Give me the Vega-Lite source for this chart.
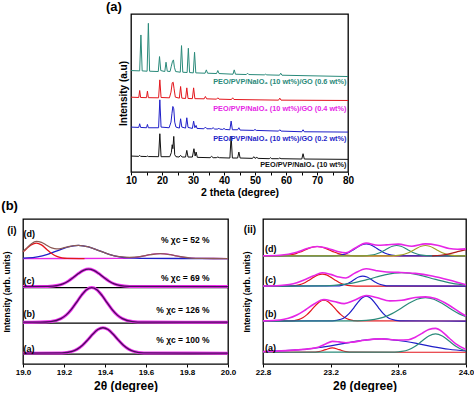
{
"$schema": "https://vega.github.io/schema/vega-lite/v6.json",
"padding": {"left": 1, "top": 0, "right": 0, "bottom": 0},
"config": {
 "font": "Liberation Sans",
 "view": {"stroke": "#000", "strokeWidth": 1.3},
 "axis": {"labelFont": "Liberation Sans", "titleFont": "Liberation Sans", "labelFontWeight": "bold", "titleFontWeight": "bold", "labelColor": "#000", "titleColor": "#000", "tickColor": "#000", "grid": false, "domain": false, "labelOverlap": false},
 "title": {"font": "Liberation Sans", "fontWeight": "bold", "color": "#000"}
},
"datasets": {
 "xrd": [
  {"s":"k","x":10,"y":48},{"s":"k","x":12.5,"y":47},{"s":"k","x":12.8,"y":50},{"s":"k","x":13.1,"y":47},{"s":"k","x":15,"y":46.5},{"s":"k","x":15.3,"y":48},{"s":"k","x":15.6,"y":46.5},{"s":"k","x":18.9,"y":46},{"s":"k","x":19.3,"y":115},{"s":"k","x":19.7,"y":46},{"s":"k","x":22.5,"y":46},{"s":"k","x":23.0,"y":58},{"s":"k","x":23.3,"y":82},{"s":"k","x":23.5,"y":70},{"s":"k","x":23.8,"y":107},{"s":"k","x":24.1,"y":52},{"s":"k","x":24.5,"y":46},{"s":"k","x":25.5,"y":45},{"s":"k","x":26,"y":50},{"s":"k","x":26.5,"y":45},{"s":"k","x":27.6,"y":45},{"s":"k","x":28,"y":65},{"s":"k","x":28.4,"y":45},{"s":"k","x":29.8,"y":45},{"s":"k","x":30.3,"y":70},{"s":"k","x":30.7,"y":48},{"s":"k","x":31.0,"y":60},{"s":"k","x":31.4,"y":44},{"s":"k","x":35.5,"y":43},{"s":"k","x":36,"y":47},{"s":"k","x":36.5,"y":43},{"s":"k","x":37.5,"y":43},{"s":"k","x":38,"y":45},{"s":"k","x":38.5,"y":43},{"s":"k","x":41.9,"y":42},{"s":"k","x":42.3,"y":108},{"s":"k","x":42.7,"y":42},{"s":"k","x":44.4,"y":42},{"s":"k","x":44.8,"y":60},{"s":"k","x":45.2,"y":42},{"s":"k","x":49.2,"y":41},{"s":"k","x":49.6,"y":46},{"s":"k","x":50,"y":41},{"s":"k","x":50.6,"y":44},{"s":"k","x":51,"y":41},{"s":"k","x":54.6,"y":40},{"s":"k","x":55,"y":43},{"s":"k","x":55.4,"y":40},{"s":"k","x":57.6,"y":40},{"s":"k","x":58,"y":42},{"s":"k","x":58.4,"y":40},{"s":"k","x":65.1,"y":39},{"s":"k","x":65.5,"y":55},{"s":"k","x":65.9,"y":39},{"s":"k","x":80,"y":38},
  {"s":"blue","x":10,"y":135},{"s":"blue","x":12.5,"y":134},{"s":"blue","x":12.8,"y":145},{"s":"blue","x":13.1,"y":134},{"s":"blue","x":15,"y":133},{"s":"blue","x":15.3,"y":143},{"s":"blue","x":15.6,"y":133},{"s":"blue","x":18.9,"y":133},{"s":"blue","x":19.3,"y":217},{"s":"blue","x":19.7,"y":135},{"s":"blue","x":22.3,"y":133},{"s":"blue","x":22.9,"y":150},{"s":"blue","x":23.2,"y":175},{"s":"blue","x":23.5,"y":197},{"s":"blue","x":23.8,"y":190},{"s":"blue","x":24.1,"y":150},{"s":"blue","x":24.5,"y":135},{"s":"blue","x":25.6,"y":132},{"s":"blue","x":26,"y":160},{"s":"blue","x":26.4,"y":135},{"s":"blue","x":27.6,"y":132},{"s":"blue","x":28,"y":163},{"s":"blue","x":28.4,"y":134},{"s":"blue","x":29.8,"y":131},{"s":"blue","x":30.2,"y":153},{"s":"blue","x":30.6,"y":133},{"s":"blue","x":31,"y":140},{"s":"blue","x":31.3,"y":131},{"s":"blue","x":33.5,"y":130},{"s":"blue","x":34,"y":135},{"s":"blue","x":34.5,"y":130},{"s":"blue","x":36,"y":130},{"s":"blue","x":36.5,"y":133},{"s":"blue","x":37,"y":129},{"s":"blue","x":38,"y":129},{"s":"blue","x":38.3,"y":132},{"s":"blue","x":38.6,"y":129},{"s":"blue","x":39.6,"y":128},{"s":"blue","x":40,"y":131},{"s":"blue","x":40.4,"y":128},{"s":"blue","x":41.9,"y":127},{"s":"blue","x":42.3,"y":153},{"s":"blue","x":42.7,"y":127},{"s":"blue","x":44.4,"y":127},{"s":"blue","x":44.8,"y":133},{"s":"blue","x":45.2,"y":126},{"s":"blue","x":49.6,"y":125},{"s":"blue","x":50,"y":128},{"s":"blue","x":50.4,"y":125},{"s":"blue","x":57.6,"y":123},{"s":"blue","x":58,"y":127},{"s":"blue","x":58.4,"y":123},{"s":"blue","x":65.1,"y":121},{"s":"blue","x":65.5,"y":127},{"s":"blue","x":65.9,"y":121},{"s":"blue","x":80,"y":120},
  {"s":"red","x":10,"y":225},{"s":"red","x":12.5,"y":224},{"s":"red","x":12.8,"y":245},{"s":"red","x":13.1,"y":224},{"s":"red","x":15,"y":223.5},{"s":"red","x":15.3,"y":243},{"s":"red","x":15.6,"y":223.5},{"s":"red","x":18.9,"y":223},{"s":"red","x":19.3,"y":277},{"s":"red","x":19.7,"y":224},{"s":"red","x":22.4,"y":223},{"s":"red","x":22.9,"y":240},{"s":"red","x":23.3,"y":268},{"s":"red","x":23.6,"y":270},{"s":"red","x":23.9,"y":250},{"s":"red","x":24.3,"y":225},{"s":"red","x":25.6,"y":222},{"s":"red","x":26,"y":257},{"s":"red","x":26.4,"y":222},{"s":"red","x":27.6,"y":221},{"s":"red","x":28,"y":253},{"s":"red","x":28.4,"y":221},{"s":"red","x":29.8,"y":220.5},{"s":"red","x":30.2,"y":253},{"s":"red","x":30.6,"y":220.5},{"s":"red","x":33.6,"y":220},{"s":"red","x":34,"y":227},{"s":"red","x":34.4,"y":220},{"s":"red","x":37.6,"y":219},{"s":"red","x":38,"y":223},{"s":"red","x":38.4,"y":219},{"s":"red","x":42.4,"y":218},{"s":"red","x":42.8,"y":223},{"s":"red","x":43.2,"y":218},{"s":"red","x":57.6,"y":216},{"s":"red","x":58,"y":222},{"s":"red","x":58.4,"y":216},{"s":"red","x":80,"y":215},
  {"s":"teal","x":10,"y":305},{"s":"teal","x":12.8,"y":304},{"s":"teal","x":13.2,"y":412},{"s":"teal","x":13.6,"y":304},{"s":"teal","x":15.2,"y":303},{"s":"teal","x":15.6,"y":447},{"s":"teal","x":16.0,"y":303},{"s":"teal","x":18.8,"y":302},{"s":"teal","x":19.2,"y":347},{"s":"teal","x":19.6,"y":305},{"s":"teal","x":20.9,"y":302},{"s":"teal","x":21.3,"y":330},{"s":"teal","x":21.7,"y":303},{"s":"teal","x":22.6,"y":302},{"s":"teal","x":23.0,"y":318},{"s":"teal","x":23.4,"y":333},{"s":"teal","x":23.7,"y":337},{"s":"teal","x":24.0,"y":315},{"s":"teal","x":24.4,"y":302},{"s":"teal","x":25.9,"y":300},{"s":"teal","x":26.3,"y":380},{"s":"teal","x":26.7,"y":300},{"s":"teal","x":28.1,"y":299},{"s":"teal","x":28.5,"y":372},{"s":"teal","x":28.9,"y":299},{"s":"teal","x":30.1,"y":298},{"s":"teal","x":30.5,"y":360},{"s":"teal","x":30.9,"y":298},{"s":"teal","x":33.9,"y":297},{"s":"teal","x":34.3,"y":307},{"s":"teal","x":34.7,"y":297},{"s":"teal","x":37.6,"y":296},{"s":"teal","x":38,"y":305},{"s":"teal","x":38.4,"y":296},{"s":"teal","x":42.9,"y":294},{"s":"teal","x":43.3,"y":307},{"s":"teal","x":43.7,"y":294},{"s":"teal","x":47.2,"y":293},{"s":"teal","x":47.6,"y":297},{"s":"teal","x":48,"y":293},{"s":"teal","x":53,"y":292},{"s":"teal","x":53.4,"y":294},{"s":"teal","x":53.8,"y":292},{"s":"teal","x":57.9,"y":291},{"s":"teal","x":58.3,"y":297},{"s":"teal","x":58.7,"y":291},{"s":"teal","x":80,"y":287}
 ],
 "xrdlab": [
  {"s":"teal","x":79.5,"y":270,"t":"PEO/PVP/NaIO₄ (10 wt%)/GO (0.6 wt%)"},
  {"s":"mag","x":79.5,"y":190,"t":"PEO/PVP/NaIO₄ (10 wt%)/GO (0.4 wt%)"},
  {"s":"blue","x":79.5,"y":100,"t":"PEO/PVP/NaIO₄ (10 wt%)/GO (0.2 wt%)"},
  {"s":"k","x":79.5,"y":22,"t":"PEO/PVP/NaIO₄ (10 wt%)"}
 ],
 "blbase": [{"y":30},{"y":124},{"y":232}],
 "bl": [
  {"p":"a","s":"fit","x":19.0,"y":33},{"p":"a","s":"fit","x":19.19,"y":33.7},{"p":"a","s":"fit","x":19.24,"y":38.4},{"p":"a","s":"fit","x":19.265,"y":45.1},{"p":"a","s":"fit","x":19.29,"y":56.6},{"p":"a","s":"fit","x":19.315,"y":72.6},{"p":"a","s":"fit","x":19.34,"y":90.3},{"p":"a","s":"fit","x":19.365,"y":104.5},{"p":"a","s":"fit","x":19.39,"y":110},{"p":"a","s":"fit","x":19.415,"y":104.5},{"p":"a","s":"fit","x":19.44,"y":90.3},{"p":"a","s":"fit","x":19.465,"y":72.6},{"p":"a","s":"fit","x":19.49,"y":56.6},{"p":"a","s":"fit","x":19.515,"y":45.1},{"p":"a","s":"fit","x":19.54,"y":38.4},{"p":"a","s":"fit","x":19.59,"y":33.7},{"p":"a","s":"fit","x":20.0,"y":33},
  {"p":"b","s":"fit","x":19.0,"y":127},{"p":"b","s":"fit","x":19.085,"y":127.2},{"p":"b","s":"fit","x":19.135,"y":128.8},{"p":"b","s":"fit","x":19.185,"y":137.6},{"p":"b","s":"fit","x":19.21,"y":148.3},{"p":"b","s":"fit","x":19.235,"y":164.8},{"p":"b","s":"fit","x":19.26,"y":186.1},{"p":"b","s":"fit","x":19.285,"y":208.4},{"p":"b","s":"fit","x":19.31,"y":225.5},{"p":"b","s":"fit","x":19.335,"y":232},{"p":"b","s":"fit","x":19.36,"y":225.5},{"p":"b","s":"fit","x":19.385,"y":208.4},{"p":"b","s":"fit","x":19.41,"y":186.1},{"p":"b","s":"fit","x":19.435,"y":164.8},{"p":"b","s":"fit","x":19.46,"y":148.3},{"p":"b","s":"fit","x":19.485,"y":137.6},{"p":"b","s":"fit","x":19.535,"y":128.8},{"p":"b","s":"fit","x":19.585,"y":127.2},{"p":"b","s":"fit","x":20.0,"y":127},
  {"p":"c","s":"fit","x":19.0,"y":235},{"p":"c","s":"fit","x":19.12,"y":235.5},{"p":"c","s":"fit","x":19.17,"y":238.7},{"p":"c","s":"fit","x":19.195,"y":243.3},{"p":"c","s":"fit","x":19.22,"y":251.2},{"p":"c","s":"fit","x":19.245,"y":262.2},{"p":"c","s":"fit","x":19.27,"y":274.4},{"p":"c","s":"fit","x":19.295,"y":284.2},{"p":"c","s":"fit","x":19.32,"y":288},{"p":"c","s":"fit","x":19.345,"y":284.2},{"p":"c","s":"fit","x":19.37,"y":274.4},{"p":"c","s":"fit","x":19.395,"y":262.2},{"p":"c","s":"fit","x":19.42,"y":251.2},{"p":"c","s":"fit","x":19.445,"y":243.3},{"p":"c","s":"fit","x":19.47,"y":238.7},{"p":"c","s":"fit","x":19.52,"y":235.5},{"p":"c","s":"fit","x":20.0,"y":235},
  {"p":"d","s":"mag","x":19.0,"y":320},{"p":"d","s":"mag","x":19.47,"y":320.3},{"p":"d","s":"mag","x":19.52,"y":321.5},{"p":"d","s":"mag","x":19.545,"y":323},{"p":"d","s":"mag","x":19.57,"y":325.4},{"p":"d","s":"mag","x":19.595,"y":328.4},{"p":"d","s":"mag","x":19.62,"y":331.6},{"p":"d","s":"mag","x":19.645,"y":334.1},{"p":"d","s":"mag","x":19.67,"y":335},{"p":"d","s":"mag","x":19.695,"y":334.1},{"p":"d","s":"mag","x":19.72,"y":331.6},{"p":"d","s":"mag","x":19.745,"y":328.4},{"p":"d","s":"mag","x":19.77,"y":325.4},{"p":"d","s":"mag","x":19.795,"y":323},{"p":"d","s":"mag","x":19.82,"y":321.5},{"p":"d","s":"mag","x":19.87,"y":320.3},{"p":"d","s":"mag","x":20.0,"y":320},
  {"p":"d","s":"blue","x":19.0,"y":321},{"p":"d","s":"blue","x":19.02,"y":321.8},{"p":"d","s":"blue","x":19.07,"y":325.4},{"p":"d","s":"blue","x":19.12,"y":333},{"p":"d","s":"blue","x":19.17,"y":344.3},{"p":"d","s":"blue","x":19.22,"y":355.3},{"p":"d","s":"blue","x":19.27,"y":360},{"p":"d","s":"blue","x":19.32,"y":355.3},{"p":"d","s":"blue","x":19.37,"y":344.3},{"p":"d","s":"blue","x":19.42,"y":333},{"p":"d","s":"blue","x":19.47,"y":325.4},{"p":"d","s":"blue","x":19.52,"y":321.8},{"p":"d","s":"blue","x":19.57,"y":320.4},{"p":"d","s":"blue","x":20.0,"y":320},
  {"p":"d","s":"red","x":19.0,"y":340.2},{"p":"d","s":"red","x":19.015,"y":348.5},{"p":"d","s":"red","x":19.04,"y":361.5},{"p":"d","s":"red","x":19.065,"y":367},{"p":"d","s":"red","x":19.09,"y":361.5},{"p":"d","s":"red","x":19.115,"y":348.5},{"p":"d","s":"red","x":19.14,"y":335.3},{"p":"d","s":"red","x":19.165,"y":326.4},{"p":"d","s":"red","x":19.19,"y":322.1},{"p":"d","s":"red","x":19.215,"y":320.5},{"p":"d","s":"red","x":19.3,"y":320},
  {"p":"d","s":"env","x":19.0,"y":341.2},{"p":"d","s":"env","x":19.02,"y":353.2},{"p":"d","s":"env","x":19.04,"y":364.3},{"p":"d","s":"env","x":19.065,"y":371.9},{"p":"d","s":"env","x":19.09,"y":369.4},{"p":"d","s":"env","x":19.115,"y":360.5},{"p":"d","s":"env","x":19.14,"y":352.5},{"p":"d","s":"env","x":19.165,"y":349.4},{"p":"d","s":"env","x":19.19,"y":351.1},{"p":"d","s":"env","x":19.22,"y":355.7},{"p":"d","s":"env","x":19.27,"y":360},{"p":"d","s":"env","x":19.32,"y":355.3},{"p":"d","s":"env","x":19.37,"y":344.3},{"p":"d","s":"env","x":19.42,"y":333},{"p":"d","s":"env","x":19.47,"y":325.7},{"p":"d","s":"env","x":19.52,"y":323.3},{"p":"d","s":"env","x":19.57,"y":325.8},{"p":"d","s":"env","x":19.62,"y":331.6},{"p":"d","s":"env","x":19.67,"y":335},{"p":"d","s":"env","x":19.72,"y":331.6},{"p":"d","s":"env","x":19.77,"y":325.4},{"p":"d","s":"env","x":19.82,"y":321.5},{"p":"d","s":"env","x":19.87,"y":320.3},{"p":"d","s":"env","x":20.0,"y":320}
 ],
 "br": [
  {"p":"a","s":"red","x":22.8,"y":35},{"p":"a","s":"red","x":23.09,"y":35.2},{"p":"a","s":"red","x":23.13,"y":36.8},{"p":"a","s":"red","x":23.17,"y":42.9},{"p":"a","s":"red","x":23.21,"y":48},{"p":"a","s":"red","x":23.25,"y":42.9},{"p":"a","s":"red","x":23.29,"y":36.8},{"p":"a","s":"red","x":23.33,"y":35.2},{"p":"a","s":"red","x":24.0,"y":35},
  {"p":"a","s":"blue","x":22.8,"y":37},{"p":"a","s":"blue","x":22.9,"y":39},{"p":"a","s":"blue","x":23.0,"y":42},{"p":"a","s":"blue","x":23.1,"y":47},{"p":"a","s":"blue","x":23.2,"y":54},{"p":"a","s":"blue","x":23.3,"y":63},{"p":"a","s":"blue","x":23.4,"y":71},{"p":"a","s":"blue","x":23.5,"y":75},{"p":"a","s":"blue","x":23.6,"y":70},{"p":"a","s":"blue","x":23.7,"y":62},{"p":"a","s":"blue","x":23.8,"y":52},{"p":"a","s":"blue","x":23.9,"y":44},{"p":"a","s":"blue","x":24.0,"y":39},
  {"p":"a","s":"teal","x":22.8,"y":35},{"p":"a","s":"teal","x":23.58,"y":35.6},{"p":"a","s":"teal","x":23.62,"y":37.4},{"p":"a","s":"teal","x":23.66,"y":42.4},{"p":"a","s":"teal","x":23.7,"y":52.9},{"p":"a","s":"teal","x":23.74,"y":68.4},{"p":"a","s":"teal","x":23.78,"y":83.5},{"p":"a","s":"teal","x":23.82,"y":90},{"p":"a","s":"teal","x":23.86,"y":83.5},{"p":"a","s":"teal","x":23.9,"y":68.4},{"p":"a","s":"teal","x":23.94,"y":52.9},{"p":"a","s":"teal","x":23.98,"y":42.4},{"p":"a","s":"teal","x":24.0,"y":39.4},
  {"p":"a","s":"mag","x":22.8,"y":37},{"p":"a","s":"mag","x":22.9,"y":39},{"p":"a","s":"mag","x":23.0,"y":42},{"p":"a","s":"mag","x":23.1,"y":47.3},{"p":"a","s":"mag","x":23.13,"y":50.8},{"p":"a","s":"mag","x":23.17,"y":59.9},{"p":"a","s":"mag","x":23.21,"y":67.5},{"p":"a","s":"mag","x":23.25,"y":65.9},{"p":"a","s":"mag","x":23.29,"y":63.3},{"p":"a","s":"mag","x":23.33,"y":65.2},{"p":"a","s":"mag","x":23.4,"y":71},{"p":"a","s":"mag","x":23.5,"y":75},{"p":"a","s":"mag","x":23.6,"y":71.3},{"p":"a","s":"mag","x":23.66,"y":72.4},{"p":"a","s":"mag","x":23.7,"y":79.9},{"p":"a","s":"mag","x":23.74,"y":91.4},{"p":"a","s":"mag","x":23.78,"y":103},{"p":"a","s":"mag","x":23.82,"y":106},{"p":"a","s":"mag","x":23.86,"y":96},{"p":"a","s":"mag","x":23.9,"y":77.4},{"p":"a","s":"mag","x":23.94,"y":59.9},{"p":"a","s":"mag","x":24.0,"y":43.4},
  {"p":"b","s":"red","x":22.8,"y":128},{"p":"b","s":"red","x":22.96,"y":128.5},{"p":"b","s":"red","x":23.01,"y":132.3},{"p":"b","s":"red","x":23.035,"y":137.7},{"p":"b","s":"red","x":23.06,"y":147},{"p":"b","s":"red","x":23.085,"y":159.9},{"p":"b","s":"red","x":23.11,"y":174.1},{"p":"b","s":"red","x":23.135,"y":185.6},{"p":"b","s":"red","x":23.16,"y":190},{"p":"b","s":"red","x":23.185,"y":185.6},{"p":"b","s":"red","x":23.21,"y":174.1},{"p":"b","s":"red","x":23.235,"y":159.9},{"p":"b","s":"red","x":23.26,"y":147},{"p":"b","s":"red","x":23.285,"y":137.7},{"p":"b","s":"red","x":23.31,"y":132.3},{"p":"b","s":"red","x":23.36,"y":128.5},{"p":"b","s":"red","x":24.0,"y":128},
  {"p":"b","s":"blue","x":22.8,"y":128},{"p":"b","s":"blue","x":23.21,"y":128.7},{"p":"b","s":"blue","x":23.26,"y":133.2},{"p":"b","s":"blue","x":23.285,"y":139.6},{"p":"b","s":"blue","x":23.31,"y":150.6},{"p":"b","s":"blue","x":23.335,"y":166},{"p":"b","s":"blue","x":23.36,"y":183.1},{"p":"b","s":"blue","x":23.385,"y":196.7},{"p":"b","s":"blue","x":23.41,"y":202},{"p":"b","s":"blue","x":23.435,"y":196.7},{"p":"b","s":"blue","x":23.46,"y":183.1},{"p":"b","s":"blue","x":23.485,"y":166},{"p":"b","s":"blue","x":23.51,"y":150.6},{"p":"b","s":"blue","x":23.535,"y":139.6},{"p":"b","s":"blue","x":23.56,"y":133.2},{"p":"b","s":"blue","x":23.61,"y":128.7},{"p":"b","s":"blue","x":24.0,"y":128},
  {"p":"b","s":"teal","x":22.8,"y":128},{"p":"b","s":"teal","x":23.36,"y":128.6},{"p":"b","s":"teal","x":23.41,"y":129.9},{"p":"b","s":"teal","x":23.46,"y":132.9},{"p":"b","s":"teal","x":23.51,"y":139},{"p":"b","s":"teal","x":23.56,"y":149.4},{"p":"b","s":"teal","x":23.61,"y":164},{"p":"b","s":"teal","x":23.66,"y":180.1},{"p":"b","s":"teal","x":23.71,"y":193},{"p":"b","s":"teal","x":23.76,"y":198},{"p":"b","s":"teal","x":23.81,"y":193},{"p":"b","s":"teal","x":23.86,"y":180.1},{"p":"b","s":"teal","x":23.91,"y":164},{"p":"b","s":"teal","x":23.96,"y":149.4},{"p":"b","s":"teal","x":24.0,"y":140.7},
  {"p":"b","s":"mag","x":22.8,"y":128.5},{"p":"b","s":"mag","x":22.9,"y":131},{"p":"b","s":"mag","x":22.95,"y":136},{"p":"b","s":"mag","x":23.0,"y":146},{"p":"b","s":"mag","x":23.05,"y":161},{"p":"b","s":"mag","x":23.1,"y":178},{"p":"b","s":"mag","x":23.16,"y":192},{"p":"b","s":"mag","x":23.22,"y":186},{"p":"b","s":"mag","x":23.28,"y":180},{"p":"b","s":"mag","x":23.34,"y":190},{"p":"b","s":"mag","x":23.41,"y":204},{"p":"b","s":"mag","x":23.47,"y":198},{"p":"b","s":"mag","x":23.55,"y":188},{"p":"b","s":"mag","x":23.62,"y":190},{"p":"b","s":"mag","x":23.7,"y":198},{"p":"b","s":"mag","x":23.76,"y":200},{"p":"b","s":"mag","x":23.82,"y":195},{"p":"b","s":"mag","x":23.9,"y":175},{"p":"b","s":"mag","x":23.96,"y":155},{"p":"b","s":"mag","x":24.0,"y":143},
  {"p":"c","s":"red","x":22.8,"y":232},{"p":"c","s":"red","x":22.95,"y":232.3},{"p":"c","s":"red","x":23.0,"y":234.5},{"p":"c","s":"red","x":23.025,"y":237.7},{"p":"c","s":"red","x":23.05,"y":243},{"p":"c","s":"red","x":23.075,"y":250.5},{"p":"c","s":"red","x":23.1,"y":258.8},{"p":"c","s":"red","x":23.125,"y":265.4},{"p":"c","s":"red","x":23.15,"y":268},{"p":"c","s":"red","x":23.175,"y":265.4},{"p":"c","s":"red","x":23.2,"y":258.8},{"p":"c","s":"red","x":23.225,"y":250.5},{"p":"c","s":"red","x":23.25,"y":243},{"p":"c","s":"red","x":23.275,"y":237.7},{"p":"c","s":"red","x":23.3,"y":234.5},{"p":"c","s":"red","x":23.35,"y":232.3},{"p":"c","s":"red","x":24.0,"y":232},
  {"p":"c","s":"blue","x":22.8,"y":232},{"p":"c","s":"blue","x":23.24,"y":232.7},{"p":"c","s":"blue","x":23.265,"y":234.3},{"p":"c","s":"blue","x":23.29,"y":237.7},{"p":"c","s":"blue","x":23.315,"y":243.8},{"p":"c","s":"blue","x":23.34,"y":251.8},{"p":"c","s":"blue","x":23.365,"y":259.1},{"p":"c","s":"blue","x":23.39,"y":262},{"p":"c","s":"blue","x":23.415,"y":259.1},{"p":"c","s":"blue","x":23.44,"y":251.8},{"p":"c","s":"blue","x":23.465,"y":243.8},{"p":"c","s":"blue","x":23.49,"y":237.7},{"p":"c","s":"blue","x":23.515,"y":234.3},{"p":"c","s":"blue","x":23.54,"y":232.7},{"p":"c","s":"blue","x":24.0,"y":232},
  {"p":"c","s":"teal","x":22.8,"y":232},{"p":"c","s":"teal","x":23.12,"y":232.5},{"p":"c","s":"teal","x":23.22,"y":234.5},{"p":"c","s":"teal","x":23.32,"y":240.4},{"p":"c","s":"teal","x":23.42,"y":252},{"p":"c","s":"teal","x":23.52,"y":265.6},{"p":"c","s":"teal","x":23.62,"y":272},{"p":"c","s":"teal","x":23.72,"y":265.6},{"p":"c","s":"teal","x":23.82,"y":252},{"p":"c","s":"teal","x":23.92,"y":240.4},{"p":"c","s":"teal","x":24.0,"y":235.3},
  {"p":"c","s":"mag","x":22.8,"y":232.5},{"p":"c","s":"mag","x":22.9,"y":234},{"p":"c","s":"mag","x":23.0,"y":242},{"p":"c","s":"mag","x":23.05,"y":252},{"p":"c","s":"mag","x":23.1,"y":263},{"p":"c","s":"mag","x":23.15,"y":272},{"p":"c","s":"mag","x":23.2,"y":267},{"p":"c","s":"mag","x":23.25,"y":259},{"p":"c","s":"mag","x":23.29,"y":256},{"p":"c","s":"mag","x":23.34,"y":270},{"p":"c","s":"mag","x":23.41,"y":284},{"p":"c","s":"mag","x":23.47,"y":278},{"p":"c","s":"mag","x":23.53,"y":274},{"p":"c","s":"mag","x":23.6,"y":273},{"p":"c","s":"mag","x":23.7,"y":270},{"p":"c","s":"mag","x":23.8,"y":262},{"p":"c","s":"mag","x":23.9,"y":250},{"p":"c","s":"mag","x":24.0,"y":236},
  {"p":"d","s":"red","x":22.8,"y":322},{"p":"d","s":"red","x":22.87,"y":322.1},{"p":"d","s":"red","x":22.92,"y":322.8},{"p":"d","s":"red","x":22.97,"y":325.8},{"p":"d","s":"red","x":22.995,"y":329},{"p":"d","s":"red","x":23.02,"y":333.5},{"p":"d","s":"red","x":23.045,"y":339},{"p":"d","s":"red","x":23.07,"y":344.4},{"p":"d","s":"red","x":23.095,"y":348.5},{"p":"d","s":"red","x":23.12,"y":350},{"p":"d","s":"red","x":23.145,"y":348.5},{"p":"d","s":"red","x":23.17,"y":344.4},{"p":"d","s":"red","x":23.195,"y":339},{"p":"d","s":"red","x":23.22,"y":333.5},{"p":"d","s":"red","x":23.245,"y":329},{"p":"d","s":"red","x":23.27,"y":325.8},{"p":"d","s":"red","x":23.32,"y":322.8},{"p":"d","s":"red","x":23.37,"y":322.1},{"p":"d","s":"red","x":24.0,"y":322},
  {"p":"d","s":"blue","x":22.8,"y":322},{"p":"d","s":"blue","x":23.21,"y":322.3},{"p":"d","s":"blue","x":23.26,"y":324.5},{"p":"d","s":"blue","x":23.285,"y":327.7},{"p":"d","s":"blue","x":23.31,"y":333},{"p":"d","s":"blue","x":23.335,"y":340.5},{"p":"d","s":"blue","x":23.36,"y":348.8},{"p":"d","s":"blue","x":23.385,"y":355.4},{"p":"d","s":"blue","x":23.41,"y":358},{"p":"d","s":"blue","x":23.435,"y":355.4},{"p":"d","s":"blue","x":23.46,"y":348.8},{"p":"d","s":"blue","x":23.485,"y":340.5},{"p":"d","s":"blue","x":23.51,"y":333},{"p":"d","s":"blue","x":23.535,"y":327.7},{"p":"d","s":"blue","x":23.56,"y":324.5},{"p":"d","s":"blue","x":23.61,"y":322.3},{"p":"d","s":"blue","x":24.0,"y":322},
  {"p":"d","s":"teal","x":22.8,"y":322},{"p":"d","s":"teal","x":23.39,"y":322.3},{"p":"d","s":"teal","x":23.44,"y":324.2},{"p":"d","s":"teal","x":23.465,"y":326.9},{"p":"d","s":"teal","x":23.49,"y":331.5},{"p":"d","s":"teal","x":23.515,"y":337.9},{"p":"d","s":"teal","x":23.54,"y":345.1},{"p":"d","s":"teal","x":23.565,"y":350.8},{"p":"d","s":"teal","x":23.59,"y":353},{"p":"d","s":"teal","x":23.615,"y":350.8},{"p":"d","s":"teal","x":23.64,"y":345.1},{"p":"d","s":"teal","x":23.665,"y":337.9},{"p":"d","s":"teal","x":23.69,"y":331.5},{"p":"d","s":"teal","x":23.715,"y":326.9},{"p":"d","s":"teal","x":23.74,"y":324.2},{"p":"d","s":"teal","x":23.79,"y":322.3},{"p":"d","s":"teal","x":24.0,"y":322},
  {"p":"d","s":"olive","x":22.8,"y":322},{"p":"d","s":"olive","x":23.56,"y":322.3},{"p":"d","s":"olive","x":23.61,"y":324.2},{"p":"d","s":"olive","x":23.635,"y":326.9},{"p":"d","s":"olive","x":23.66,"y":331.5},{"p":"d","s":"olive","x":23.685,"y":337.9},{"p":"d","s":"olive","x":23.71,"y":345.1},{"p":"d","s":"olive","x":23.735,"y":350.8},{"p":"d","s":"olive","x":23.76,"y":353},{"p":"d","s":"olive","x":23.785,"y":350.8},{"p":"d","s":"olive","x":23.81,"y":345.1},{"p":"d","s":"olive","x":23.835,"y":337.9},{"p":"d","s":"olive","x":23.86,"y":331.5},{"p":"d","s":"olive","x":23.885,"y":326.9},{"p":"d","s":"olive","x":23.91,"y":324.2},{"p":"d","s":"olive","x":23.96,"y":322.3},{"p":"d","s":"olive","x":24.0,"y":322},
  {"p":"d","s":"red2","x":23.8,"y":322.3},{"p":"d","s":"red2","x":23.85,"y":324},{"p":"d","s":"red2","x":23.9,"y":328},{"p":"d","s":"red2","x":23.95,"y":335},{"p":"d","s":"red2","x":24.0,"y":341},
  {"p":"d","s":"mag","x":22.8,"y":322.5},{"p":"d","s":"mag","x":22.9,"y":324},{"p":"d","s":"mag","x":23.0,"y":333},{"p":"d","s":"mag","x":23.06,"y":344},{"p":"d","s":"mag","x":23.12,"y":350},{"p":"d","s":"mag","x":23.18,"y":345},{"p":"d","s":"mag","x":23.24,"y":335},{"p":"d","s":"mag","x":23.29,"y":331},{"p":"d","s":"mag","x":23.34,"y":344},{"p":"d","s":"mag","x":23.41,"y":360},{"p":"d","s":"mag","x":23.48,"y":354},{"p":"d","s":"mag","x":23.53,"y":355},{"p":"d","s":"mag","x":23.6,"y":357},{"p":"d","s":"mag","x":23.68,"y":351},{"p":"d","s":"mag","x":23.76,"y":358},{"p":"d","s":"mag","x":23.83,"y":354},{"p":"d","s":"mag","x":23.9,"y":344},{"p":"d","s":"mag","x":23.95,"y":342},{"p":"d","s":"mag","x":24.0,"y":343}
 ],
 "tx": [
  {"v":"bl","k":"chi","x":19.91,"y":375,"t":"% χc = 52 %"},
  {"v":"bl","k":"chi","x":19.91,"y":262,"t":"% χc = 69 %"},
  {"v":"bl","k":"chi","x":19.91,"y":163,"t":"% χc = 126 %"},
  {"v":"bl","k":"chi","x":19.91,"y":73,"t":"% χc = 100 %"},
  {"v":"bl","k":"lt","x":19.003,"y":393,"t":"(d)"},
  {"v":"bl","k":"lt","x":19.003,"y":252,"t":"(c)"},
  {"v":"bl","k":"lt","x":19.003,"y":153,"t":"(b)"},
  {"v":"bl","k":"lt","x":19.003,"y":47,"t":"(a)"},
  {"v":"bl","k":"pn","x":18.946,"y":405,"t":"(i)"},
  {"v":"br","k":"lt","x":22.812,"y":343,"t":"(d)"},
  {"v":"br","k":"lt","x":22.812,"y":250,"t":"(c)"},
  {"v":"br","k":"lt","x":22.812,"y":148,"t":"(b)"},
  {"v":"br","k":"lt","x":22.812,"y":48,"t":"(a)"},
  {"v":"br","k":"pn","x":22.723,"y":398,"t":"(ii)"}
 ]
},
"spacing": 1,
"vconcat": [
 {
  "spacing": 17,
  "hconcat": [
   {"width": 65, "height": 10, "view": {"stroke": null}, "data": {"values": []}, "mark": {"type": "point", "opacity": 0}, "encoding": {}},
   {
    "width": 217, "height": 158,
    "title": {"text": "(a)", "anchor": "start", "fontSize": 13, "offset": 0, "dx": -12},
    "encoding": {
     "x": {"field": "x", "type": "quantitative", "scale": {"domain": [10, 80], "nice": false, "zero": false},
           "axis": {"values": [10,15,20,25,30,35,40,45,50,55,60,65,70,75,80], "format": "d", "labelExpr": "datum.value % 10 == 0 ? datum.label : ''", "labelOverlap": false, "labelBound": false, "tickSize": 3, "labelPadding": 0, "labelFontSize": 10, "labelFlush": false, "title": "2 theta (degree)", "titleFontSize": 10.5, "titlePadding": 2}},
     "y": {"field": "y", "type": "quantitative", "scale": {"domain": [0, 475], "nice": false},
           "axis": {"title": "Intensity (a.u)", "labels": false, "ticks": false, "titleFontSize": 10, "titlePadding": 3}},
     "color": {"field": "s", "type": "nominal", "legend": null,
               "scale": {"domain": ["k","blue","red","teal","mag","fit","env","olive","red2"], "range": ["#111111","#1f1fc8","#e3161c","#2a8a7a","#e626e6","#4a0f5c","#8c5a55","#a0a024","#b01c1c"]}}
    },
    "layer": [
     {
      "data": {"name": "xrd"},
      "mark": {"type": "line", "strokeWidth": 1}
     },
     {
      "data": {"name": "xrdlab"},
      "mark": {"type": "text", "align": "right", "fontSize": 7.3, "fontWeight": "bold", "font": "Liberation Sans"},
      "encoding": {"text": {"field": "t"}}
     }
    ]
   }
  ]
 },
 {
  "spacing": 35,
  "bounds": "flush",
  "title": {"text": "(b)", "anchor": "start", "fontSize": 13, "offset": 5},
  "hconcat": [
   {
    "width": 205, "height": 145,
    "layer": [
     {
      "data": {"name": "blbase"},
      "mark": {"type": "rule", "color": "#000", "strokeWidth": 1.3},
      "encoding": {"y": {"field": "y", "type": "quantitative", "scale": {"domain": [0, 440], "nice": false},
                         "axis": {"title": "Intensity (arb. units)", "labels": false, "ticks": false, "titleFontSize": 8.5, "titlePadding": 12}}}
     },
     {
      "data": {"name": "bl"},
      "transform": [{"filter": "datum.s == 'fit'"}],
      "mark": {"type": "line", "color": "#f030f0", "strokeWidth": 3, "interpolate": "monotone"},
      "encoding": {
       "x": {"field": "x", "type": "quantitative", "scale": {"domain": [19, 20], "nice": false, "zero": false},
             "axis": {"values": [19,19.1,19.2,19.3,19.4,19.5,19.6,19.7,19.8,19.9,20], "format": ".1f", "labelExpr": "round(datum.value*10) % 2 == 0 ? datum.label : ''", "labelOverlap": false, "tickSize": 3, "labelPadding": 1, "labelFontSize": 8, "labelFlush": false, "title": "2θ (degree)", "titleFontSize": 12, "titlePadding": 4}},
       "y": {"field": "y", "type": "quantitative"},
       "detail": {"field": "p"}
      }
     },
     {
      "data": {"name": "bl"},
      "mark": {"type": "line", "strokeWidth": 1.3, "interpolate": "monotone"},
      "encoding": {
       "x": {"field": "x", "type": "quantitative"},
       "y": {"field": "y", "type": "quantitative"},
       "color": {"field": "s", "type": "nominal", "legend": null},
       "detail": {"field": "p"}
      }
     },
     {
      "data": {"name": "tx"},
      "transform": [{"filter": "datum.v == 'bl' && datum.k == 'chi'"}],
      "mark": {"type": "text", "align": "right", "fontSize": 8.5, "fontWeight": "bold", "color": "#000"},
      "encoding": {"x": {"field": "x", "type": "quantitative"}, "y": {"field": "y", "type": "quantitative"}, "text": {"field": "t"}}
     },
     {
      "data": {"name": "tx"},
      "transform": [{"filter": "datum.v == 'bl' && datum.k == 'lt'"}],
      "mark": {"type": "text", "align": "left", "fontSize": 9, "fontWeight": "bold", "color": "#000"},
      "encoding": {"x": {"field": "x", "type": "quantitative"}, "y": {"field": "y", "type": "quantitative"}, "text": {"field": "t"}}
     },
     {
      "data": {"name": "tx"},
      "transform": [{"filter": "datum.v == 'bl' && datum.k == 'pn'"}],
      "mark": {"type": "text", "align": "center", "fontSize": 10, "fontWeight": "bold", "color": "#000"},
      "encoding": {"x": {"field": "x", "type": "quantitative"}, "y": {"field": "y", "type": "quantitative"}, "text": {"field": "t"}}
     }
    ]
   },
   {
    "width": 203, "height": 145,
    "layer": [
     {
      "data": {"name": "br"},
      "transform": [{"filter": "datum.s != 'mag'"}],
      "mark": {"type": "line", "strokeWidth": 1.2, "interpolate": "monotone"},
      "encoding": {
       "x": {"field": "x", "type": "quantitative", "scale": {"domain": [22.8, 24], "nice": false, "zero": false},
             "axis": {"values": [22.8,22.9,23.0,23.1,23.2,23.3,23.4,23.5,23.6,23.7,23.8,23.9,24.0], "format": ".1f", "labelExpr": "round(datum.value*10) % 2 == 0 ? datum.label : ''", "labelOverlap": false, "tickSize": 3, "labelPadding": 1, "labelFontSize": 8, "labelFlush": false, "title": "2θ (degree)", "titleFontSize": 12, "titlePadding": 4}},
       "y": {"field": "y", "type": "quantitative", "scale": {"domain": [0, 432], "nice": false},
             "axis": {"title": "Intensity (arb. units)", "labels": false, "ticks": false, "titleFontSize": 8.5, "titlePadding": 12}},
       "color": {"field": "s", "type": "nominal", "legend": null},
       "detail": {"field": "p"}
      }
     },
     {
      "data": {"name": "br"},
      "transform": [{"filter": "datum.s == 'mag'"}],
      "mark": {"type": "line", "strokeWidth": 1.6, "interpolate": "monotone"},
      "encoding": {
       "x": {"field": "x", "type": "quantitative"},
       "y": {"field": "y", "type": "quantitative"},
       "color": {"field": "s", "type": "nominal", "legend": null},
       "detail": {"field": "p"}
      }
     },
     {
      "data": {"name": "tx"},
      "transform": [{"filter": "datum.v == 'br' && datum.k == 'lt'"}],
      "mark": {"type": "text", "align": "left", "fontSize": 9, "fontWeight": "bold", "color": "#000"},
      "encoding": {"x": {"field": "x", "type": "quantitative"}, "y": {"field": "y", "type": "quantitative"}, "text": {"field": "t"}}
     },
     {
      "data": {"name": "tx"},
      "transform": [{"filter": "datum.v == 'br' && datum.k == 'pn'"}],
      "mark": {"type": "text", "align": "center", "fontSize": 10, "fontWeight": "bold", "color": "#000"},
      "encoding": {"x": {"field": "x", "type": "quantitative"}, "y": {"field": "y", "type": "quantitative"}, "text": {"field": "t"}}
     }
    ]
   }
  ]
 }
]
}
